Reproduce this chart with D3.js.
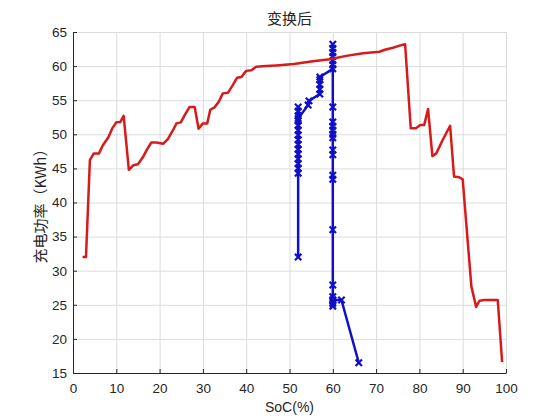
<!DOCTYPE html>
<html>
<head>
<meta charset="utf-8">
<script src="https://cdn.jsdelivr.net/npm/d3@7"></script>
<style>
body { margin: 0; background: #fff; }
svg { font-family: "Liberation Sans", Arial, sans-serif; }
</style>
</head>
<body>
<svg id="chart" width="560" height="420"></svg>
<script>
// red series: after transform
var redX = [2.2, 3.0, 3.9, 4.8, 6.0, 6.9, 8.1, 9.1, 10.0, 10.9, 11.7, 12.9, 13.9, 15.0, 16.2, 17.1, 18.1, 19.3, 20.8, 21.9,
    23.1, 23.9, 24.9, 25.8, 26.9, 28.1, 29.0, 30.0, 31.0, 31.7, 32.7, 33.7, 34.6, 35.8, 36.9, 37.9, 38.9, 40.0, 41.2, 42.3,
    44.6, 47.0, 51.0, 55.4, 59.3, 63.1, 67.0, 70.8, 72.0, 73.9, 75.4, 76.7, 78.0, 79.2, 80.2, 81.1, 82.0, 83.0, 83.9, 85.4,
    87.1, 88.0, 89.2, 90.0, 92.0, 93.1, 93.9, 95.0, 98.1, 99.1];
var redY = [32.0, 32.0, 46.2, 47.2, 47.2, 48.4, 49.5, 50.9, 51.75, 51.8, 52.7, 44.8, 45.45, 45.6, 46.7, 47.8, 48.8, 48.8, 48.6, 49.3,
    50.6, 51.6, 51.75, 52.8, 54.0, 54.0, 50.8, 51.6, 51.6, 53.6, 53.95, 54.8, 56.0, 56.1, 57.2, 58.3, 58.4, 59.3, 59.4, 59.9,
    60.0, 60.1, 60.3, 60.7, 61.0, 61.5, 61.9, 62.1, 62.4, 62.7, 63.0, 63.2, 50.9, 50.9, 51.35, 51.35, 53.7, 46.8, 47.2, 49.2,
    51.25, 43.8, 43.7, 43.4, 27.7, 24.7, 25.6, 25.7, 25.7, 16.6];

// blue series: measured points
var blueX = [52, 52, 52, 52, 52, 52, 52, 52, 52, 52, 52, 52, 52, 52, 52, 52, 52,
    54.3, 54.5, 57, 57, 57, 57, 57, 60, 60, 60, 60, 60, 60, 60,
    60, 60, 60, 60, 60, 60, 60, 60, 60, 60, 60, 60, 60, 60, 60, 60, 60, 62, 66];
var blueY = [32.0, 44.3, 45.0, 45.7, 46.4, 47.1, 47.8, 48.5, 49.2, 49.9, 50.6, 51.3, 52.0, 52.7, 53.4, 54.0, 52.3,
    54.3, 54.9, 55.9, 56.6, 57.3, 58.0, 58.4, 59.6, 60.2, 60.8, 61.4, 62.0, 62.6, 63.2,
    54.0, 51.8, 51.2, 50.6, 50.0, 49.5, 47.7, 47.0, 44.0, 43.4, 36.0, 27.9, 26.2, 25.2, 24.8, 25.7, 25.7, 25.7, 16.5];

var xTicks = [0, 10, 20, 30, 40, 50, 60, 70, 80, 90, 100];
var yTicks = [15, 20, 25, 30, 35, 40, 45, 50, 55, 60, 65];

var svg = d3.select("#chart");
var margin = {left: 73, top: 32, right: 54, bottom: 47};
var w = 560 - margin.left - margin.right;
var h = 420 - margin.top - margin.bottom;

var x = d3.scaleLinear().domain([0, 100]).range([0, w]);
var y = d3.scaleLinear().domain([15, 65]).range([h, 0]);

var g = svg.append("g")
    .attr("transform", "translate(" + margin.left + "," + margin.top + ")");

// grid
g.append("g")
    .attr("transform", "translate(0," + h + ")")
    .call(d3.axisBottom(x).tickValues(xTicks).tickSize(-h).tickFormat(""))
    .call(s => s.select(".domain").remove())
    .selectAll("line").attr("stroke", "#dcdcdc");

g.append("g")
    .call(d3.axisLeft(y).tickValues(yTicks).tickSize(-w).tickFormat(""))
    .call(s => s.select(".domain").remove())
    .selectAll("line").attr("stroke", "#dcdcdc");

// axes
var xAxis = g.append("g")
    .attr("transform", "translate(0," + h + ")")
    .call(d3.axisBottom(x).tickValues(xTicks).tickSizeInner(-4).tickSizeOuter(0).tickPadding(10));
var yAxis = g.append("g")
    .call(d3.axisLeft(y).tickValues(yTicks).tickSizeInner(-4).tickSizeOuter(0).tickPadding(6));

[xAxis, yAxis].forEach(function(a) {
    a.select(".domain").attr("stroke", "#262626");
    a.selectAll("line").attr("stroke", "#262626");
    a.selectAll("text")
        .attr("fill", "#262626")
        .style("font-size", "13.5px")
        .style("font-family", "Liberation Sans, Arial, sans-serif");
});

var line = d3.line()
    .x(d => x(d[0]))
    .y(d => y(d[1]));

var blue = blueX.map((v, i) => [v, blueY[i]]);
var red = redX.map((v, i) => [v, redY[i]]);

g.append("path")
    .datum(blue)
    .attr("d", line)
    .attr("fill", "none")
    .attr("stroke", "#1010c8")
    .attr("stroke-width", 2.5)
    .attr("stroke-linejoin", "round");

var ms = 3.2;
g.selectAll(".mk")
    .data(blue)
    .enter()
    .append("path")
    .attr("class", "mk")
    .attr("d", d => {
        var cx = x(d[0]), cy = y(d[1]);
        return "M" + (cx - ms) + "," + (cy - ms) + "L" + (cx + ms) + "," + (cy + ms) +
            "M" + (cx - ms) + "," + (cy + ms) + "L" + (cx + ms) + "," + (cy - ms);
    })
    .attr("stroke", "#1010c8")
    .attr("stroke-width", 2.2)
    .attr("fill", "none");

g.append("path")
    .datum(red)
    .attr("d", line)
    .attr("fill", "none")
    .attr("stroke", "#d81a1a")
    .attr("stroke-width", 2.5)
    .attr("stroke-linejoin", "round");

// labels
svg.append("text")
    .attr("x", margin.left + w / 2)
    .attr("y", 24)
    .attr("text-anchor", "middle")
    .attr("fill", "#262626")
    .style("font-family", "Noto Sans CJK SC, sans-serif")
    .style("font-size", "15px")
    .text("变换后");

svg.append("text")
    .attr("x", margin.left + w / 2)
    .attr("y", 412)
    .attr("text-anchor", "middle")
    .attr("fill", "#262626")
    .style("font-size", "14px")
    .text("SoC(%)");

svg.append("text")
    .attr("transform", "translate(46," + (margin.top + h / 2) + ") rotate(-90)")
    .attr("text-anchor", "middle")
    .attr("fill", "#262626")
    .style("font-family", "Noto Sans CJK SC, sans-serif")
    .style("font-size", "15px")
    .text("充电功率（KWh）");
</script>
</body>
</html>
